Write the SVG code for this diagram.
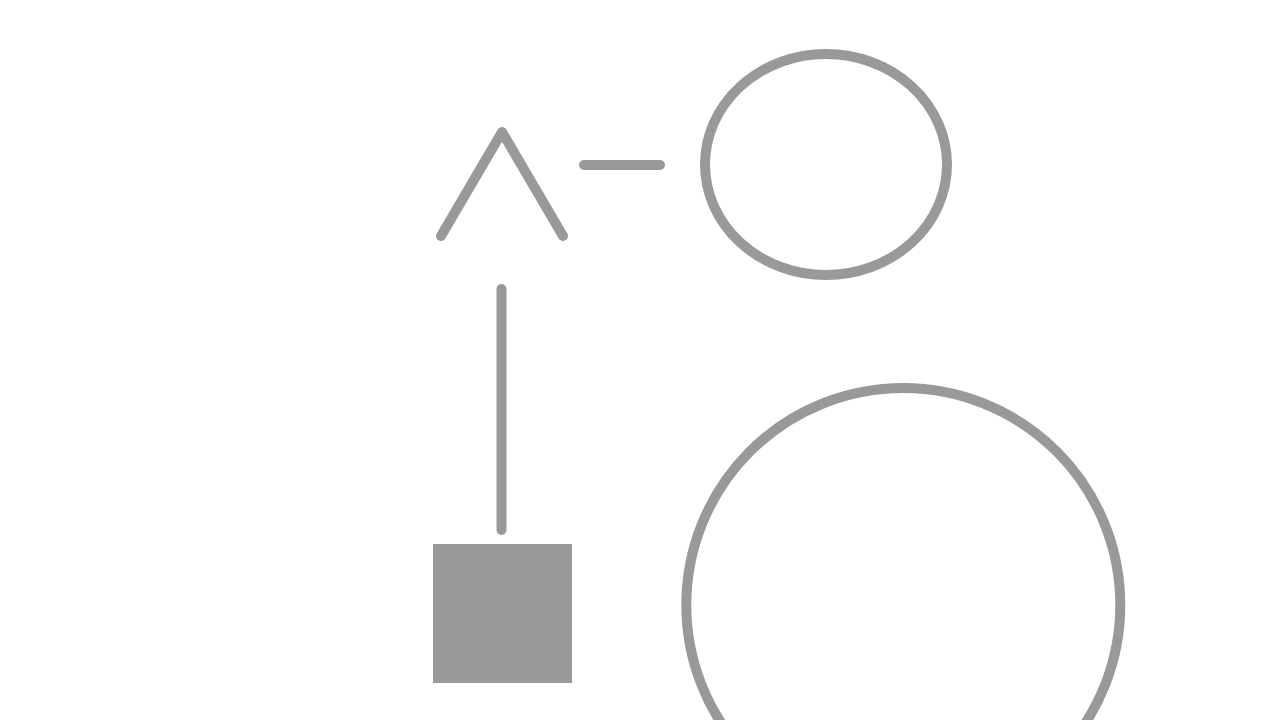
<svg xmlns="http://www.w3.org/2000/svg" width="1280" height="720" viewBox="0 0 1280 720">
<style>
.s{fill:none;stroke:#999999;stroke-width:10;stroke-linecap:round;stroke-linejoin:round}
.f{fill:#999999}
</style>
<rect width="1280" height="720" fill="#ffffff"/>
<g id="chevron"><polyline class="s" points="441,236 502,132 563,236"/></g>
<g id="ellipse"><ellipse class="s" cx="826" cy="164.5" rx="121" ry="110.5"/></g>
<g id="square"><rect class="f" x="433" y="544" width="139" height="139"/></g>
<g id="bigcircle"><circle class="s" cx="903.3" cy="605" r="217"/></g>
<g id="connectors">
<line class="s" x1="584" y1="165" x2="660" y2="165"/>
<line class="s" x1="501.5" y1="289" x2="501.5" y2="530"/>
</g>
</svg>
